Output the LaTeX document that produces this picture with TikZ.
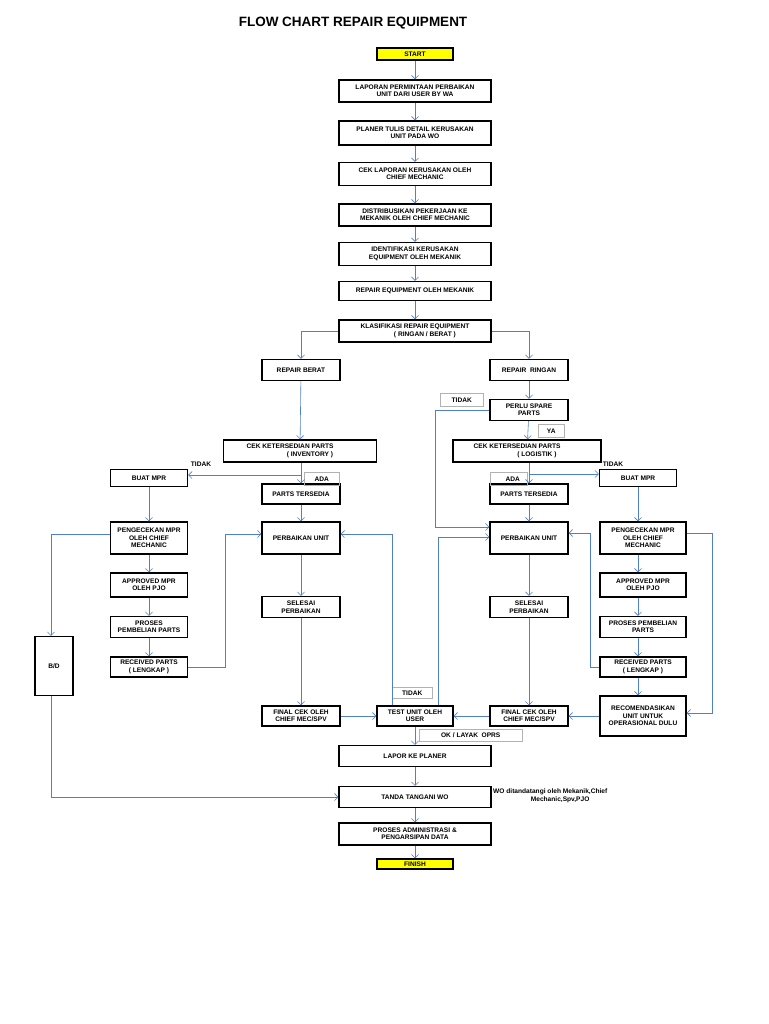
\documentclass[tikz,border=0pt]{standalone}
\usepackage{fontspec}
\setmainfont{Liberation Sans}
\usetikzlibrary{arrows.meta}
\definecolor{lb}{RGB}{79,129,200}
\definecolor{yel}{RGB}{255,255,0}
\begin{document}
\begin{tikzpicture}[x=1pt,y=-1pt,
  box/.style={draw=black,line width=1.3pt,fill=white,align=center,font=\bfseries\fontsize{6.6}{7.4}\selectfont,inner sep=1pt},
  lbl/.style={draw=gray!60,line width=0.5pt,align=left,anchor=north west,font=\bfseries\fontsize{6.6}{7.4}\selectfont,inner sep=1pt,minimum height=13pt,text depth=0pt},
  txt/.style={font=\bfseries\fontsize{6.6}{7.4}\selectfont,inner sep=0pt},
  ar/.style={draw=lb,line width=0.6pt,-{Straight Barb[length=3.5pt,width=7pt]}},
  ln/.style={draw=lb,line width=0.6pt}]
\useasboundingbox (0,0) rectangle (768,1024);
\fill[white] (0,0) rectangle (768,1024);
\node[font=\bfseries\fontsize{13.5}{14}\selectfont] (title) at (353,23) {FLOW CHART REPAIR EQUIPMENT};
% main column
\node[box,fill=yel,minimum width=76pt,minimum height=12pt] (start) at (415,54) {START};
\node[box,minimum width=152pt,minimum height=22pt] (lap) at (415,91) {LAPORAN PERMINTAAN PERBAIKAN\\UNIT DARI USER BY WA};
\node[box,minimum width=152pt,minimum height=24pt] (pla) at (415,133) {PLANER TULIS DETAIL KERUSAKAN\\UNIT PADA WO};
\node[box,minimum width=152pt,minimum height=23pt] (cek) at (415,174) {CEK LAPORAN KERUSAKAN OLEH\\CHIEF MECHANIC};
\node[box,minimum width=152pt,minimum height=22pt] (dis) at (415,215) {DISTRIBUSIKAN PEKERJAAN KE\\MEKANIK OLEH CHIEF MECHANIC};
\node[box,minimum width=152pt,minimum height=23pt] (ide) at (415,254) {IDENTIFIKASI KERUSAKAN\\EQUIPMENT OLEH MEKANIK};
\node[box,minimum width=152pt,minimum height=19pt] (rep) at (415,291) {REPAIR EQUIPMENT OLEH MEKANIK};
\node[box,minimum width=152pt,minimum height=22pt] (kla) at (415,331) {KLASIFIKASI REPAIR EQUIPMENT\\\hspace*{3em}( RINGAN / BERAT )};
% left branch
\node[box,minimum width=78pt,minimum height=21pt] (rb) at (301,370) {REPAIR BERAT};
\node[box,minimum width=153pt,minimum height=22pt] (ci) at (300,451) {CEK KETERSEDIAN PARTS\hspace*{3em}\\\hspace*{3em}( INVENTORY )};
\node[box,minimum width=78pt,minimum height=20pt] (ptl) at (301,494) {PARTS TERSEDIA};
\node[box,minimum width=78pt,minimum height=32pt] (pul) at (301,538) {PERBAIKAN UNIT};
\node[box,minimum width=78pt,minimum height=21pt] (sel) at (301,607) {SELESAI\\PERBAIKAN};
\node[box,minimum width=78pt,minimum height=20pt] (fcl) at (301,716) {FINAL CEK OLEH\\CHIEF MEC/SPV};
\node[box,minimum width=77pt,minimum height=17pt] (bml) at (149,478) {BUAT MPR};
\node[box,minimum width=77pt,minimum height=32pt] (pml) at (149,538) {PENGECEKAN MPR\\OLEH CHIEF\\MECHANIC};
\node[box,minimum width=77pt,minimum height=24pt] (aml) at (149,585) {APPROVED MPR\\OLEH PJO};
\node[box,minimum width=77pt,minimum height=21pt] (ppl) at (149,627) {PROSES\\PEMBELIAN PARTS};
\node[box,minimum width=77pt,minimum height=20pt] (rpl) at (149,667) {RECEIVED PARTS\\( LENGKAP )};
\node[box,minimum width=38pt,minimum height=59pt] (bd) at (54,666) {B/D};
% right branch
\node[box,minimum width=78pt,minimum height=21pt] (rr) at (529,370) {REPAIR\ \ RINGAN};
\node[box,minimum width=78pt,minimum height=21pt] (psp) at (529,410) {PERLU SPARE\\PARTS};
\node[box,minimum width=148pt,minimum height=22pt] (cl) at (527,451) {CEK KETERSEDIAN PARTS\hspace*{3em}\\\hspace*{3em}( LOGISTIK )};
\node[box,minimum width=78pt,minimum height=20pt] (ptr) at (529,494) {PARTS TERSEDIA};
\node[box,minimum width=78pt,minimum height=32pt] (pur) at (529,538) {PERBAIKAN UNIT};
\node[box,minimum width=78pt,minimum height=21pt] (ser) at (529,607) {SELESAI\\PERBAIKAN};
\node[box,minimum width=78pt,minimum height=20pt] (fcr) at (529,716) {FINAL CEK OLEH\\CHIEF MEC/SPV};
\node[box,minimum width=77pt,minimum height=17pt] (bmr) at (638,478) {BUAT MPR};
\node[box,minimum width=86pt,minimum height=32pt] (pmr) at (643,538) {PENGECEKAN MPR\\OLEH CHIEF\\MECHANIC};
\node[box,minimum width=86pt,minimum height=24pt] (amr) at (643,585) {APPROVED MPR\\OLEH PJO};
\node[box,minimum width=86pt,minimum height=21pt] (ppr) at (643,627) {PROSES PEMBELIAN\\PARTS};
\node[box,minimum width=86pt,minimum height=20pt] (rpr) at (643,667) {RECEIVED PARTS\\( LENGKAP )};
\node[box,minimum width=86pt,minimum height=40pt] (rec) at (643,716) {RECOMENDASIKAN\\UNIT UNTUK\\OPERASIONAL DULU};
% bottom
\node[box,minimum width=76pt,minimum height=20pt] (tu) at (415,716) {TEST UNIT OLEH\\USER};
\node[box,minimum width=152pt,minimum height=21pt] (lkp) at (415,756) {LAPOR KE PLANER};
\node[box,minimum width=152pt,minimum height=21pt] (ttw) at (415,797) {TANDA TANGANI WO};
\node[box,minimum width=152pt,minimum height=22pt] (pad) at (415,834) {PROSES ADMINISTRASI \&\\PENGARSIPAN DATA};
\node[box,fill=yel,minimum width=76pt,minimum height=10pt,inner sep=0pt] (fin) at (415,864) {FINISH};
% labels
\node[lbl,minimum width=43pt] (l1) at (440,393) {TIDAK};
\node[lbl,minimum width=26pt] (l2) at (538,424) {YA};
\node[lbl,minimum width=35pt] (l3) at (304,472) {ADA};
\node[lbl,minimum width=37pt,align=center] (l4) at (490,472) {\hspace*{8pt}ADA};
\node[lbl,minimum width=40pt,minimum height=11pt] (l5) at (392,687) {TIDAK};
\node[lbl,minimum width=103pt,minimum height=12pt] (l6) at (419,729) {OK / LAYAK\ \ OPRS};
\node[txt] (t1) at (201,464) {TIDAK};
\node[txt] (t2) at (613,464) {TIDAK};
\node[txt,align=center,anchor=north west] (t3) at (493,789) {WO ditandatangi oleh Mekanik,Chief\\\hspace*{3em}Mechanic,Spv,PJO};
% main chain arrows
\draw[ar] (start) -- (lap);
\draw[ar] (lap) -- (pla);
\draw[ar] (pla) -- (cek);
\draw[ar] (cek) -- (dis);
\draw[ar] (dis) -- (ide);
\draw[ar] (ide) -- (rep);
\draw[ar] (rep) -- (kla);
\draw[ar] (kla.west) -| (rb.north);
\draw[ar] (kla.east) -| (rr.north);
\draw[ar] (rb) -- (ci);
\draw[ar] (rr) -- (psp);
\draw[ar] (psp) -- (cl);
\draw[ar] (ci.south -| ptl) -- (ptl);
\draw[ar] (cl.south -| ptr) -- (ptr);
\coordinate (ci1) at (301,475);
\draw[ar] (ci1) -- (ci1 -| bml.east);
\coordinate (cl1) at (529,474);
\draw[ar] (cl1) -- (cl1 -| bmr.west);
\draw[ar] (ptl) -- (pul);
\draw[ar] (ptr) -- (pur);
\draw[ar] (pul) -- (sel);
\draw[ar] (pur) -- (ser);
\draw[ar] (sel) -- (fcl);
\draw[ar] (ser) -- (fcr);
% MPR columns
\draw[ar] (bml) -- (pml);
\draw[ar] (pml) -- (aml);
\draw[ar] (aml) -- (ppl);
\draw[ar] (ppl) -- (rpl);
\draw[ar] (bmr.south) -- (bmr.south |- pmr.north);
\draw[ar] (bmr.south |- pmr.south) -- (bmr.south |- amr.north);
\draw[ar] (bmr.south |- amr.south) -- (bmr.south |- ppr.north);
\draw[ar] (bmr.south |- ppr.south) -- (bmr.south |- rpr.north);
\draw[ar] (bmr.south |- rpr.south) -- (bmr.south |- rec.north);
% B/D
\coordinate (bd1) at (51,534);
\draw[ar] (pml.west |- bd1) -- (bd1) -- (bd1 |- bd.north);
\draw[ar] (bd.south -| bd1) |- (ttw.west);
% received left -> perbaikan
\coordinate (rl1) at (225,534);
\draw[ar] (rpl.east) -| (rl1) -- (rl1 -| pul.west);
% test unit TIDAK -> perbaikan left
\coordinate (tu1) at (392,534);
\draw[ar] (tu1 |- tu.north) -- (tu1) -- (tu1 -| pul.east);
% test unit -> perbaikan right
\coordinate (tu2) at (438,537);
\draw[ar] (tu2 |- tu.north) -- (tu2) -- (tu2 -| pur.west);
% perlu spare TIDAK
\coordinate (ps1) at (435,527);
\draw[ar] (psp.west) -| (ps1) -- (ps1 -| pur.west);
% received right -> perbaikan right
\coordinate (rr1) at (590,533);
\draw[ar] (rpr.west) -| (rr1) -- (rr1 -| pur.east);
% pengecekan right -> rekomendasi
\coordinate (pr1) at (712,533);
\coordinate (pr2) at (712,713);
\draw[ar] (pr1 -| pmr.east) -- (pr1) -- (pr2) -- (pr2 -| rec.east);
% bottom flow
\draw[ar] (rec.west |- fcr) -- (fcr.east);
\draw[ar] (fcr) -- (tu);
\draw[ar] (fcl) -- (tu);
\draw[ar] (tu) -- (lkp);
\draw[ar] (lkp) -- (ttw);
\draw[ar] (ttw) -- (pad);
\draw[ar] (pad) -- (fin);
\end{tikzpicture}
\end{document}
